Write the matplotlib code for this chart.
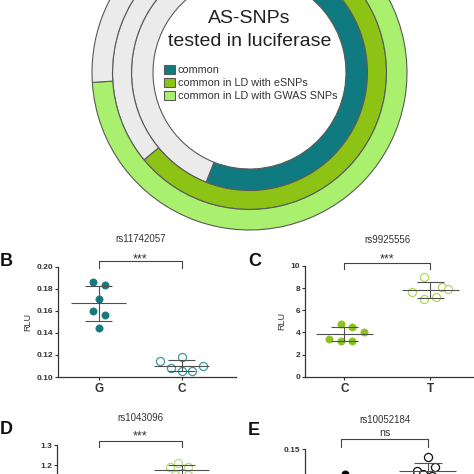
import matplotlib
matplotlib.use('Agg')
import matplotlib.pyplot as plt
import numpy as np
from matplotlib.transforms import blended_transform_factory as btf

plt.rcParams['font.family'] = ['Liberation Sans', 'DejaVu Sans']

# ---------------- data ----------------
ring_labels = ['common', 'common in LD with eSNPs', 'common in LD with GWAS SNPs']
ring_fractions = [0.56, 0.64, 0.74]
ring_colors = ['#0f7b80', '#8cc315', '#a9f06f']
ring_rest_color = '#ebebeb'

B_title = 'rs11742057'
B_alleles = ['G', 'C']
B_g1 = [0.186, 0.183, 0.171, 0.160, 0.156, 0.1445]
B_g2 = [0.1145, 0.1185, 0.1085, 0.105, 0.1055, 0.110]
B_sig = '***'

C_title = 'rs9925556'
C_alleles = ['C', 'T']
C_g1 = [4.76, 4.46, 4.04, 3.43, 3.25, 3.25]
C_g2 = [9.03, 8.13, 7.90, 7.68, 6.99, 7.17]
C_sig = '***'

D_title = 'rs1043096'
D_g1 = [1.00, 0.98, 0.96, 0.95, 0.93, 0.92]
D_g2 = [1.21, 1.19, 1.19, 1.16, 1.15, 1.15]
D_sig = '***'

E_title = 'rs10052184'
E_g1 = [0.117, 0.110, 0.105, 0.100, 0.097, 0.092]
E_g2 = [0.139, 0.126, 0.121, 0.117, 0.113, 0.108]
E_sig = 'ns'

# horizontal jitter of the dots (in group units)
B_j1 = [-0.072, 0.072, 0.0, -0.072, 0.072, 0.0]
B_j2 = [-0.26, 0.0, -0.13, 0.0, 0.13, 0.26]
C_j1 = [-0.04, 0.09, 0.23, -0.18, -0.04, 0.09]
C_j2 = [-0.07, 0.14, 0.20, -0.21, -0.07, 0.07]
D_j1 = [-0.07, 0.07, 0.0, -0.07, 0.07, 0.0]
D_j2 = [-0.05, -0.14, 0.08, 0.0, -0.08, 0.08]
E_j1 = [0.04, -0.07, 0.07, 0.0, -0.07, 0.07]
E_j2 = [0.0, 0.08, -0.12, -0.06, 0.05, -0.05]

W = H = 474
fig = plt.figure(figsize=(4.74, 4.74), dpi=100)


def fx(px):
    return px / W


def fy(py):
    return 1 - py / H


# ---------------- ring chart ----------------
cx, cy, R = 249.5, 72.5, 157.5
ax0 = fig.add_axes([fx(cx - R), fy(cy + R), 2 * R / W, 2 * R / H])
radii = [(118.0, 96.5), (137.0, 118.0), (157.5, 137.0)]
handles = []
for frac, col, (ro, ri) in zip(ring_fractions, ring_colors, radii):
    wedges, _ = ax0.pie([frac, 1 - frac], radius=ro / R,
                        colors=[col, ring_rest_color], startangle=90,
                        counterclock=False,
                        wedgeprops=dict(width=(ro - ri) / R, edgecolor='#5a5a5a',
                                        linewidth=0.8))
    handles.append(wedges[0])
ax0.set_xlim(-1, 1)
ax0.set_ylim(-1, 1)
ax0.set_aspect('equal')
ax0.axis('off')

fig.text(fx(249), fy(18.5), 'AS-SNPs', ha='center', va='center', fontsize=14, color='#222222')
fig.text(fx(250), fy(41.5), 'tested in luciferase', ha='center', va='center', fontsize=14,
         color='#222222')
leg = fig.legend(handles, ring_labels, loc='upper left',
                 bbox_to_anchor=(fx(164), fy(64.5)), bbox_transform=fig.transFigure,
                 frameon=False, fontsize=7.8, handlelength=1.0, handleheight=0.95,
                 handletextpad=0.25, labelspacing=0.25, borderpad=0, borderaxespad=0)
for t in leg.get_texts():
    t.set_color('#333333')


# ---------------- dot plots ----------------
def panel(left, top, bottom, right, g0, unit, ylim, yticks, yfmt, g1, g2, j1, j2,
          c1, c2, alleles, title, sig, br_y, br_bot, sig_y, title_y, letter, lpos,
          sig_is_stars=True, ylabel='RLU'):
    x0 = (left - g0) / unit
    x1 = (right - g0) / unit
    ax = fig.add_axes([fx(left), fy(bottom), (right - left) / W, (bottom - top) / H])
    ax.set_xlim(x0, x1)
    ax.set_ylim(*ylim)
    for s in ['top', 'right']:
        ax.spines[s].set_visible(False)
    for s in ['left', 'bottom']:
        ax.spines[s].set_linewidth(0.9)
        ax.spines[s].set_color('#333333')
    ax.set_yticks(yticks)
    ax.set_yticklabels([yfmt.format(v) for v in yticks], fontsize=6, fontweight='bold',
                       color='#333333')
    if alleles:
        ax.set_xticks([0, 1])
        ax.set_xticklabels(alleles, fontsize=8.5, fontweight='bold', color='#333333')
    else:
        ax.set_xticks([])
    ax.tick_params(axis='both', length=2.2, width=0.8, color='#333333')
    ax.tick_params(axis='y', pad=1.5)
    ax.tick_params(axis='x', pad=2)
    if ylabel:
        ax.set_ylabel(ylabel, fontsize=6.5, color='#333333', labelpad=3)

    ax.scatter(np.array(j1) + 0, g1, s=27, color=c1, edgecolors=c1, linewidths=0.5,
               zorder=2)
    ax.scatter(np.array(j2) + 1, g2, s=34, facecolors='white', edgecolors=c2,
               linewidths=0.9, zorder=2)
    for xi, vals in [(0, g1), (1, g2)]:
        m = np.mean(vals)
        sd = np.std(vals, ddof=1)
        ax.hlines(m, xi - 0.33, xi + 0.33, color='#505050', lw=0.8, zorder=3)
        ax.hlines([m - sd, m + sd], xi - 0.16, xi + 0.16, color='#505050', lw=0.8, zorder=3)
        ax.vlines(xi, m - sd, m + sd, color='#505050', lw=0.8, zorder=3)

    tr = btf(ax.transData, fig.transFigure)
    ax.plot([0, 0, 1, 1], [fy(br_bot), fy(br_y), fy(br_y), fy(br_bot)], transform=tr,
            color='#444444', lw=0.8, clip_on=False)
    if sig_is_stars:
        ax.text(0.5, fy(sig_y + 7), sig, transform=tr, ha='center', va='baseline',
                fontsize=9, color='#333333')
    else:
        ax.text(0.5, fy(sig_y), sig, transform=tr, ha='center', va='center',
                fontsize=7.7, color='#333333')
    ax.text(0.5, fy(title_y), title, transform=tr, ha='center', va='center', fontsize=7,
            color='#333333')
    fig.text(fx(lpos[0]), fy(lpos[1]), letter, ha='center', va='center', fontsize=13,
             fontweight='bold', color='#111111')
    return ax


panel(58.3, 266.7, 377, 236, 98.7, 83, (0.10, 0.20), [0.10, 0.12, 0.14, 0.16, 0.18, 0.20],
      '{:.2f}', B_g1, B_g2, B_j1, B_j2, '#157a7c', '#3d9a9a', B_alleles, B_title, B_sig,
      261, 268.3, 255, 239, 'B', (6.5, 261.5))

panel(305.3, 266, 376.7, 490, 344.3, 86, (0, 10), [0, 2, 4, 6, 8, 10], '{:d}',
      C_g1, C_g2, C_j1, C_j2, '#8cc31f', '#b3d95a', C_alleles, C_title, C_sig,
      262.7, 269.3, 255, 240, 'C', (255, 261.5))

# panels D and E are cropped by the bottom edge of the figure: only the visible
# tick labels are drawn
panel(57, 445, 555, 236, 98.7, 83, (0.75, 1.3), [1.2, 1.3], '{:.1f}',
      D_g1, D_g2, D_j1, D_j2, '#a6d86a', '#b8de7c', None, D_title, D_sig,
      440.5, 446.7, 432, 418, 'D', (6, 429.5), ylabel=None)

panel(305.3, 449.3, 559.3, 490, 341.3, 86.4, (0, 0.15), [0.15], '{:.2f}',
      E_g1, E_g2, E_j1, E_j2, '#000000', '#111111', None, E_title, E_sig,
      439.3, 446.7, 433, 420, 'E', (254, 430.5), sig_is_stars=False, ylabel=None)

fig.savefig('out.png', dpi=100)
